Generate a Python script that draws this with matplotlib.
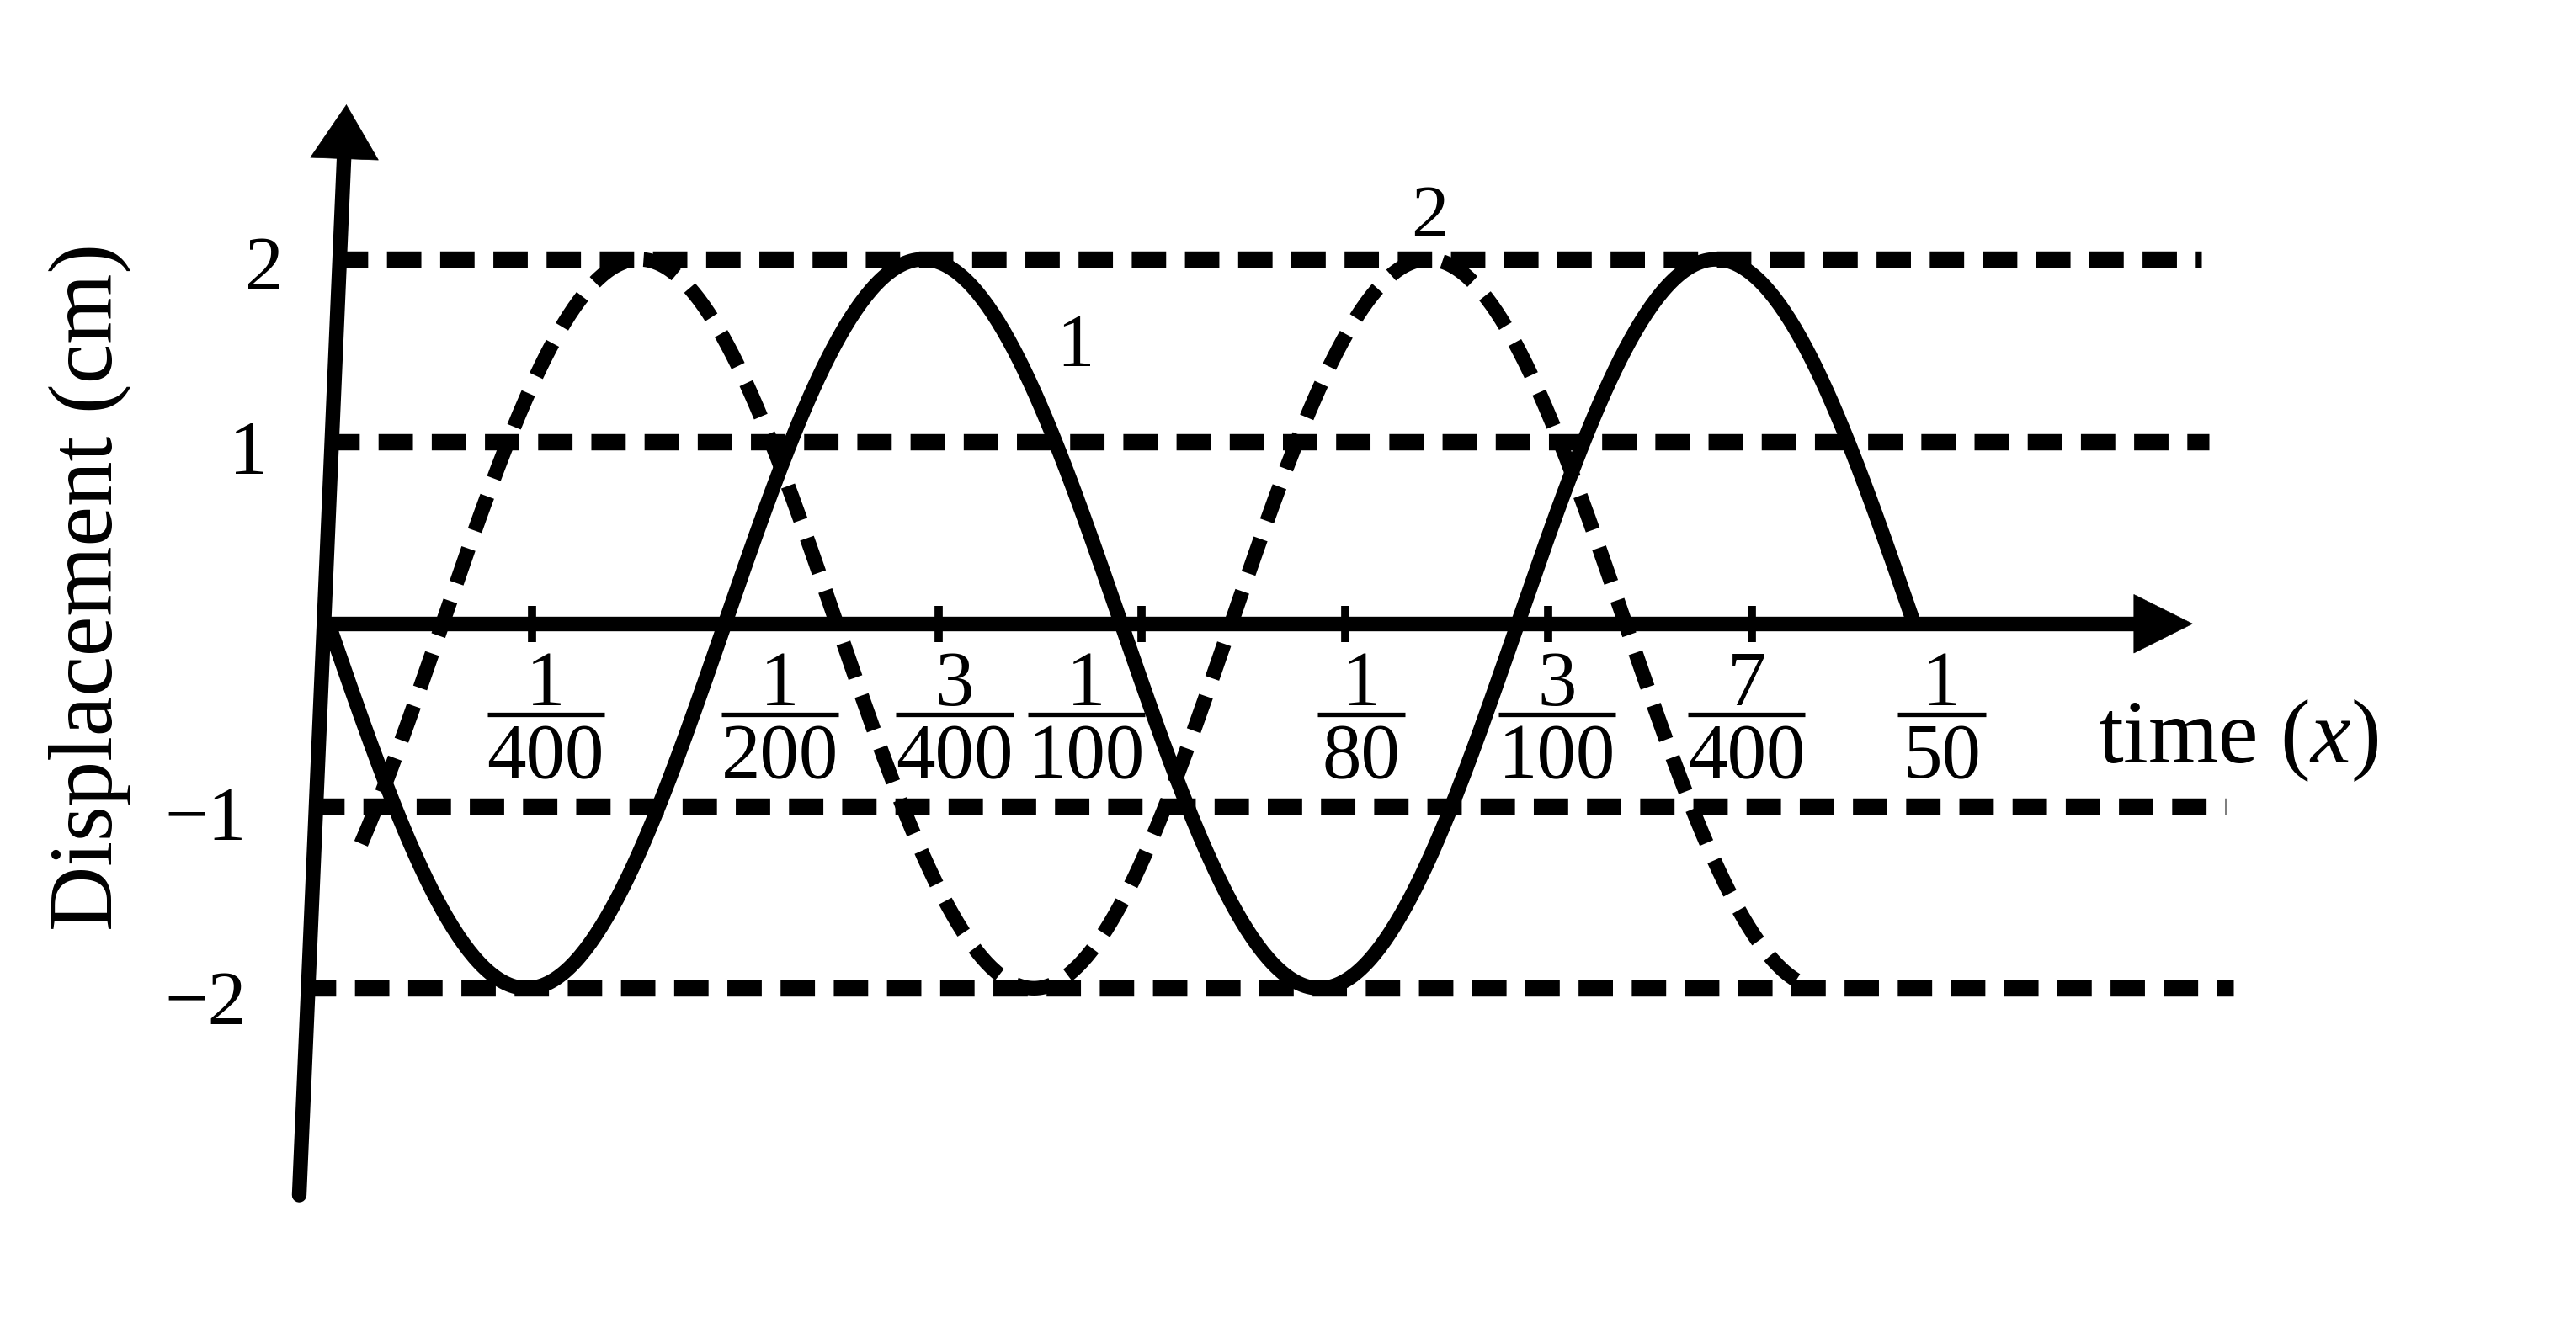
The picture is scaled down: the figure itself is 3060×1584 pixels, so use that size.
import matplotlib.pyplot as plt
import numpy as np
from matplotlib.patches import ArrowStyle

plt.rcParams['font.family'] = ['Liberation Serif', 'DejaVu Serif']
plt.rcParams['mathtext.fontset'] = 'custom'
plt.rcParams['mathtext.rm'] = 'Liberation Serif'
plt.rcParams['mathtext.it'] = 'Liberation Serif:italic'

# time in ms (1/400 s = 2.5 ms), displacement in cm
levels = [2, 1, -1, -2]
level_labels = ['2', '1', '\u22121', '\u22122']
tick_times = [2.5, 7.5, 10, 12.5, 15, 17.5]
frac_num = ['1', '1', '3', '1', '1', '3', '7', '1']
frac_den = ['400', '200', '400', '100', '80', '100', '400', '50']
frac_pos = [2.67, 5.55, 7.70, 9.32, 12.70, 15.11, 17.44, 19.84]

# wave 1 (solid): starts at 0 going down
amp1 = 2
period1 = 9.75
t1_start, t1_end = 0.0, 19.5
# wave 2 (dashed): upward zero crossing at zero2
amp2 = 2
period2 = 9.7
zero2 = 1.4
t2_start, t2_end = 0.4, 18.05

fig = plt.figure(figsize=(30.6, 15.84), dpi=100)
ax = fig.add_axes([0, 0, 1, 1])
ax.set_xlim(-4.04, 27.64)
ax.set_ylim(-3.892, 3.423)
ax.axis('off')

# y axis is drawn slightly slanted, as in the original
yax_bottom = (-0.36, -3.135)
yax_top = (0.22, 2.85)
slope = (yax_top[0] - yax_bottom[0]) / (yax_top[1] - yax_bottom[1])

# dashed reference lines
for lev in levels:
    x0 = yax_bottom[0] + slope * (lev - yax_bottom[1]) - 0.08
    x1 = 23.03 + 0.1 * (2 - lev)
    ax.plot([x0, x1], [lev, lev], color='black', lw=14,
            linestyle=(0, (2.1, 1.15)), dash_capstyle='butt')

# curves
t1 = np.linspace(t1_start, t1_end, 600)
y1 = -amp1 * np.sin(2 * np.pi * t1 / period1)
ax.plot(t1, y1, color='black', lw=12.5, solid_capstyle='butt')

t2 = np.linspace(t2_start, t2_end, 600)
y2 = amp2 * np.sin(2 * np.pi * (t2 - zero2) / period2)
ax.plot(t2, y2, color='black', lw=12.5, linestyle=(0, (2.5, 1.3)),
        dash_capstyle='butt')

# axes with arrow heads
ax.plot([0, 22.3], [0, 0], color='black', lw=12.5, solid_capstyle='butt')
ax.annotate('', xy=(22.93, 0), xytext=(21.5, 0),
            arrowprops=dict(arrowstyle=ArrowStyle('-|>', head_length=50, head_width=25),
                            mutation_scale=1, lw=0.5, color='black',
                            shrinkA=0, shrinkB=0))
ax.plot([yax_bottom[0], yax_top[0] - 0.02], [yax_bottom[1], yax_top[1] - 0.2],
        color='black', lw=12.5, solid_capstyle='round')
ax.annotate('', xy=yax_top, xytext=(yax_top[0] - 0.05, yax_top[1] - 0.6),
            arrowprops=dict(arrowstyle=ArrowStyle('-|>', head_length=46, head_width=29),
                            mutation_scale=1, lw=0.5, color='black',
                            shrinkA=0, shrinkB=0))

# tick marks on time axis
for tt in tick_times:
    ax.plot([tt, tt], [-0.1, 0.1], color='black', lw=7, solid_capstyle='butt')

# fraction tick labels
for num, den, xp in zip(frac_num, frac_den, frac_pos):
    ax.text(xp, -0.448, num, ha='center', va='baseline', fontsize=67)
    ax.text(xp, -0.845, den, ha='center', va='baseline', fontsize=67)
    half = 0.18 * len(den) + 0.18
    ax.plot([xp - half, xp + half], [-0.498, -0.498], color='black', lw=3.8,
            solid_capstyle='butt')

# level labels
label_x = [-0.55, -0.75, -1.01, -1.01]
label_y = [1.98, 0.97, -1.04, -2.05]
for txt, xp, yp in zip(level_labels, label_x, label_y):
    ax.text(xp, yp, txt, ha='right', va='center_baseline', fontsize=66)

# curve labels
ax.text(9.19, 1.56, '1', ha='center', va='center_baseline', fontsize=64)
ax.text(13.54, 2.27, '2', ha='center', va='center_baseline', fontsize=64)

# axis titles
ax.text(21.76, -0.76, 'time ($x$)', ha='left', va='baseline', fontsize=77)
ax.text(-2.93, 0.2, 'Displacement (cm)', rotation=90, ha='center', va='center',
        fontsize=77)

fig.savefig('out.png', dpi=100, facecolor='white')
